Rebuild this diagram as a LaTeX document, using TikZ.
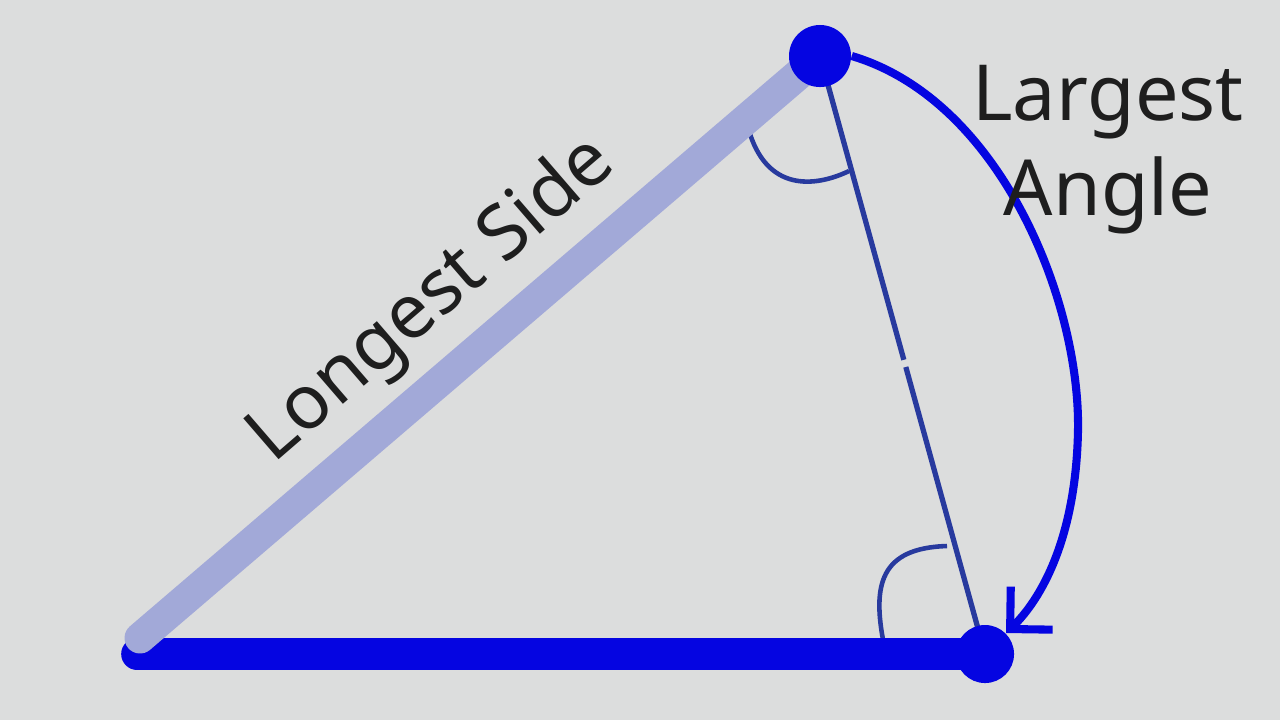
\documentclass[tikz,border=0pt]{standalone}
\usepackage{fontspec}
\setmainfont{Noto Sans}
\usetikzlibrary{arrows.meta,calc}
\definecolor{bgray}{RGB}{220,221,221}
\definecolor{vblue}{RGB}{5,5,225}
\definecolor{sblue}{RGB}{40,58,158}
\definecolor{lilac}{RGB}{162,169,216}
\definecolor{ink}{RGB}{30,30,30}
\begin{document}
\begin{tikzpicture}[x=0.01cm,y=-0.01cm,
				longside/.style = {line width=8.8pt, lilac, line cap=round},
				baseside/.style = {line width=9pt, vblue, line cap=round},
				thinside/.style = {line width=1.5pt, sblue},
				anglemark/.style = {line width=1.3pt, sblue},
				vertex/.style = {circle, fill=vblue, inner sep=0pt},
				label/.style = {text=ink, font=\fontsize{22}{27}\selectfont, align=center}]

				\fill[bgray] (0,0) rectangle (1280,720);
				\useasboundingbox (0,0) rectangle (1280,720);

				\coordinate (left) at (140,638);
				\coordinate (base) at (137,654);
				\coordinate (top) at (820,56);
				\coordinate (right) at (985,654);

				\draw[anglemark] (750,134) .. controls (770,195) and (820,185) .. (849,171);
				\draw[anglemark] (947,546) .. controls (880,548) and (872,585) .. (884,645);

				\draw[baseside] (base) -- (right);
				\draw[longside] (left) -- ($(left)!0.97!(top)$);
				\draw[thinside] (top) -- ($(top)!0.508!(right)$);
				\draw[thinside] ($(top)!0.52!(right)$) -- (right);

				\node[vertex, minimum size=0.62cm] (topdot) at (top) {};
				\node[vertex, minimum size=0.58cm] (rightdot) at (right) {};

				\draw[line width=2.3pt, vblue, -{Straight Barb[length=0.3cm, width=0.6cm]}]
					(topdot.east) .. controls (1000,100) and (1080,300) .. (1078,430)
					.. controls (1076,540) and (1040,600) .. (rightdot.north east);

				\node[label] (angletext) at (1108,150) {Largest\\Angle};
				\node[label, rotate=40.8, font=\fontsize{21.5}{26}\selectfont] (sidetext) at (433,301) {Longest Side};
			\end{tikzpicture}
\end{document}
